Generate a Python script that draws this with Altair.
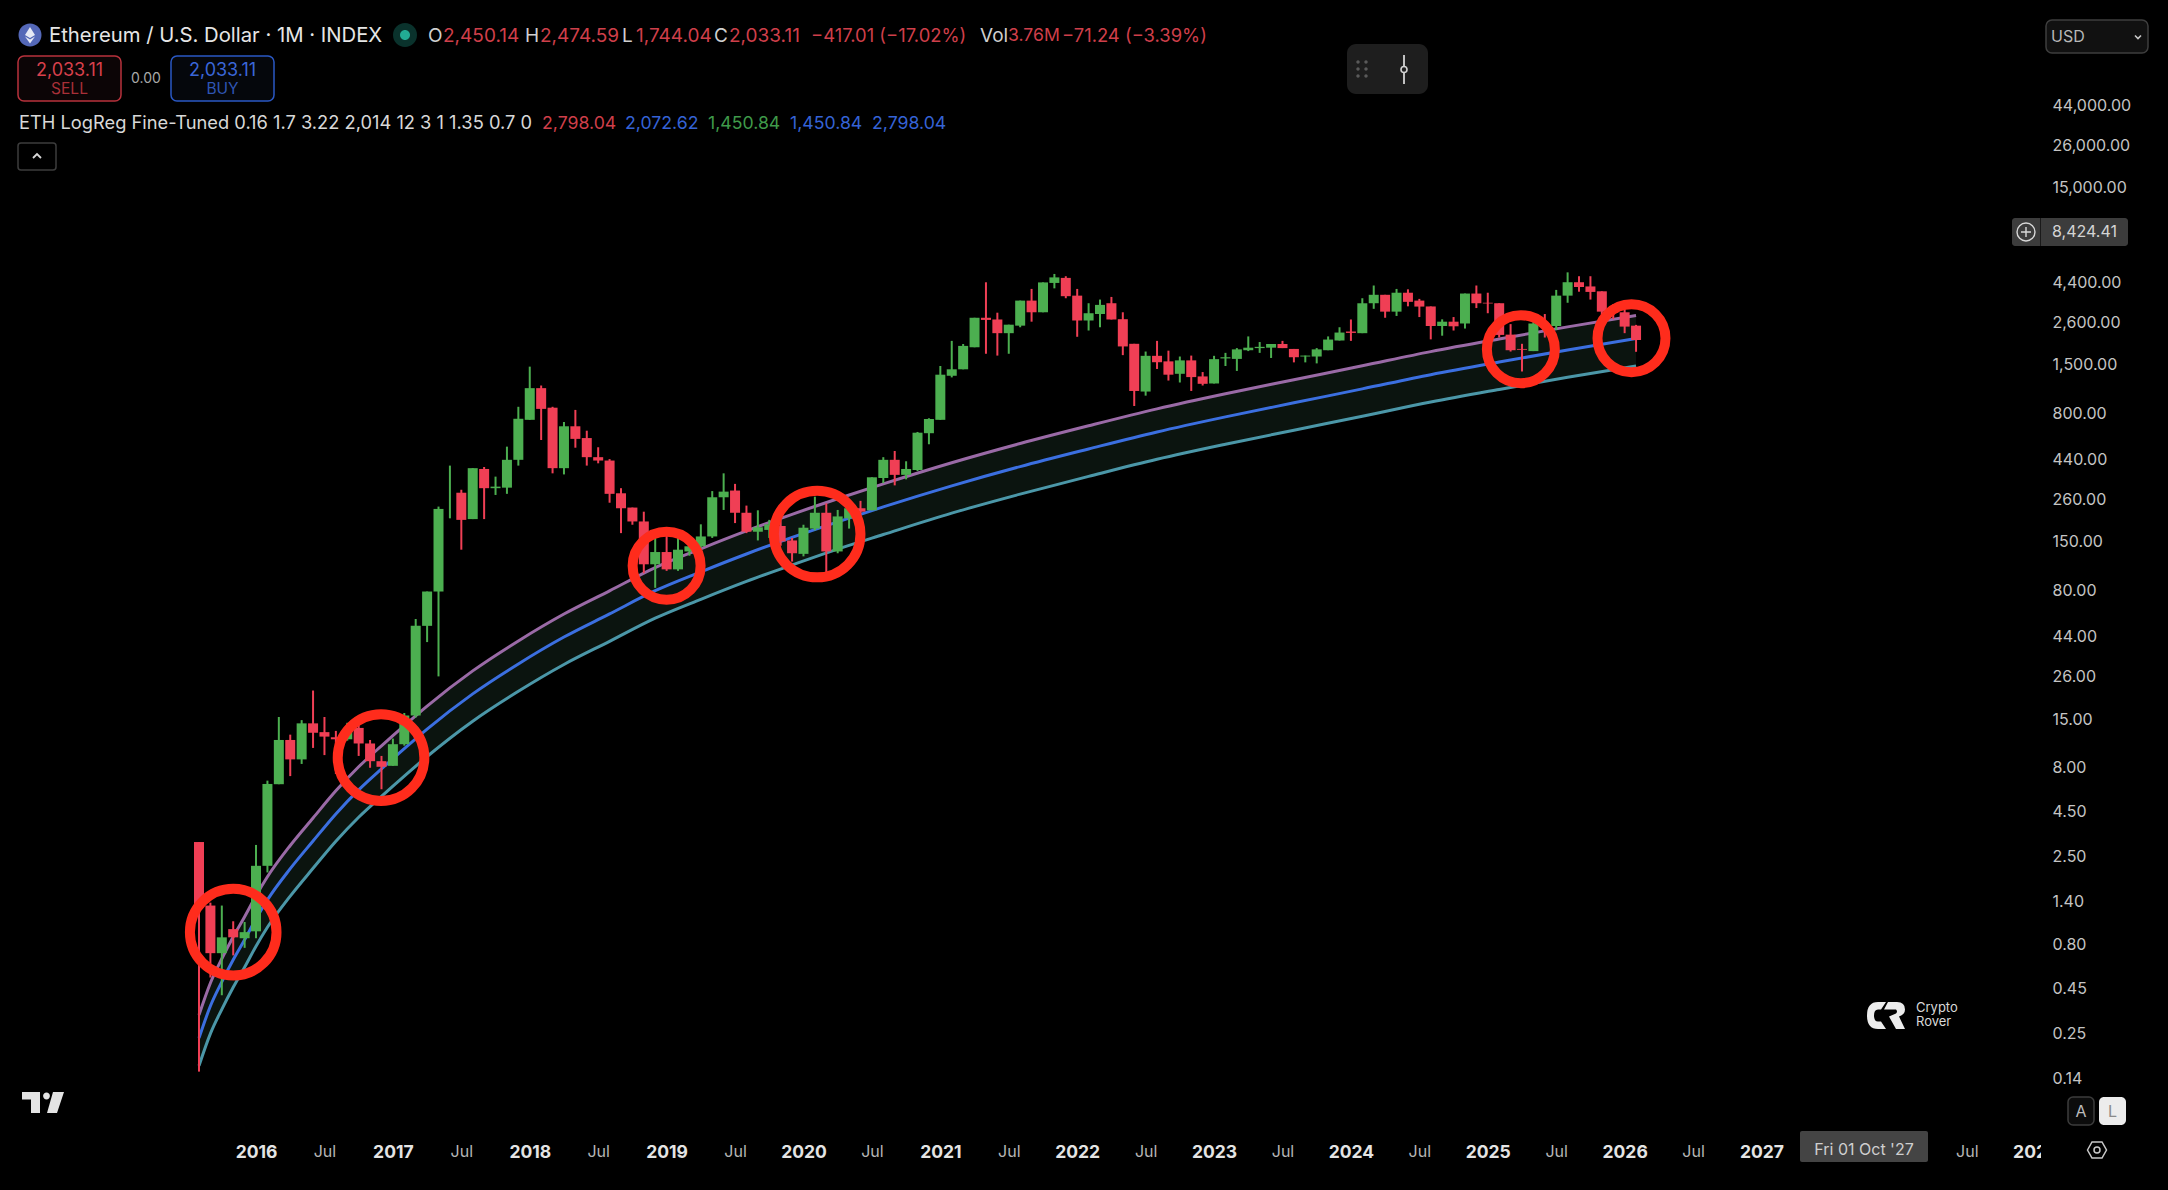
import altair as alt
import pandas as pd

# ---- data (USD) ----
opens = [2.97,1.30,0.70,0.957,0.85,0.93,2.18,6.3,11.2,8.7,13.9,12.4,11.6,11.3,13.1,10.7,8.5,8.0,10.6,15.4,
         49.4,77.2,275,279,198,380,296,298,428,720,1087,843,384,662,568,443,424,277,230,192,
         110,129,103,130,139,158,263,287,215,168,172,181,150,126,175,215,130,200,228,222,
         338,428,352,375,605,720,1277,1389,1850,2715,2655,2222,2450,3394,2916,4270,4560,3620,2620,2850,
         3280,2665,1935,1040,1655,1540,1310,1560,1266,1155,1600,1590,1780,1830,1840,1930,1810,1640,1640,1780,
         2020,2270,2222,3280,3660,2940,3760,3394,3145,2440,2580,2520,3720,3300,3280,2180,1810,1760,2520,2440,
         3620,4310,4080,3830,2940,2916,2450.14]
highs = [2.97,1.35,1.30,1.06,1.05,2.86,6.6,15.1,12.0,14.5,21.3,15.1,12.6,14.0,14.0,11.2,9.1,11.4,15.9,54,
         77.2,233,397,290,384,390,344,508,853,1438,1125,853,700,819,625,504,432,296,230,218,
         158,160,158,142,185,285,359,313,236,222,196,196,155,184,265,243,223,232,251,341,
         443,480,420,615,735,1450,2010,1930,2715,4307,2900,2481,3394,3951,4300,4800,4660,3950,3280,3440,
         3560,2916,1935,1750,2010,1770,1640,1660,1340,1655,1720,1830,2130,1980,1930,2010,1810,1660,1830,2130,
         2400,2655,3500,4130,3660,3950,3930,3470,3145,2660,2740,3720,4130,3760,3280,2500,1935,2580,2850,3900,
         4900,4660,4660,3830,3240,3150,2474.59]
lows = [0.15,0.51,0.405,0.68,0.75,0.85,2.0,6.3,7.0,8.2,10.1,9.2,7.2,11.1,9.1,7.8,5.9,8.0,10.4,15,
        40,25.6,200,133,198,198,271,275,397,720,554,359,354,501,397,409,245,165,184,98,
        81,101,101,123,136,155,223,188,165,150,155,140,114,122,171,89,127,175,212,222,
        316,307,332,370,524,720,1250,1389,1850,1700,1660,1700,2400,2580,2916,3980,3500,2120,2300,2400,
        2655,1670,862,986,1395,1200,1170,1048,1125,1155,1450,1360,1760,1720,1610,1830,1520,1520,1500,1780,
        2020,2010,2222,3050,2715,2780,3150,2740,2050,2150,2300,2360,3080,2880,2100,1750,1350,1760,2100,2320,
        3300,3810,3440,2800,2670,2222,1744.04]
closes = [1.30,0.70,0.86,0.86,0.92,2.18,6.32,11.2,8.7,13.9,12.3,11.7,11.3,12.8,10.7,8.5,7.9,10.6,15.4,49.4,
          77.2,226,275,196,384,296,302,428,730,1087,830,384,662,562,443,424,275,228,192,110,
          129,103,133,139,158,263,283,215,168,178,185,148,127,177,215,130,205,228,218,341,
          428,352,380,609,728,1295,1389,1883,2715,2640,2222,2481,3394,2916,4300,4590,3594,2620,2880,3210,
          2655,1870,1048,1655,1523,1295,1560,1255,1150,1585,1625,1800,1840,1860,1930,1830,1625,1660,1800,2045,
          2240,2230,3278,3660,2940,3760,3340,3140,2440,2580,2430,3720,3280,3270,2172,1780,1790,2520,2460,3620,
          4310,4050,3800,2940,2900,2420,2033.11]

band_idx = [0,1,2,3,4,5,6,8,10,12,14,16,18,20,24,28,32,36,40,44,48,52,56,60,66,72,78,84,90,96,102,108,114,120,126]
band_mid = [.232,.352,.482,.642,.833,1.094,1.40,2.10,3.01,4.28,5.85,7.69,10.0,12.9,20.4,30.1,42.7,57.7,78,99.7,
            125.8,156,191,232,305,392,493,615,748,898,1077,1295,1527,1787,2072.62]
band_up = [.313,.475,.651,.867,1.125,1.477,1.89,2.84,4.06,5.78,7.9,10.38,13.5,17.4,27.5,40.6,57.6,77.9,105.3,134.6,
           169.8,210.6,257.9,313,412,529,666,830,1010,1212,1454,1748,2061,2412,2798.04]
band_lo = [.162,.246,.337,.449,.583,.766,.98,1.47,2.11,3.0,4.1,5.38,7.0,9.03,14.3,21.1,29.9,40.4,54.6,69.8,
           88.1,109,134,162,214,274,345,431,524,629,754,907,1069,1251,1450.84]

ring_idx = [3.0,15.96,41.0,54.2,115.9,125.6]
ring_price = [0.92,8.9,108,163,1804,2081]
ring_size = [7500,7500,4620,7500,4620,4620]

y_ticks = [44000,26000,15000,4400,2600,1500,800,440,260,150,80,44,26,15,8,4.5,2.5,1.4,0.8,0.45,0.25,0.14]
x_ticks = [5,11,17,23,29,35,41,47,53,59,65,71,77,83,89,95,101,107,113,119,125,131,137,155,161]

# ---- styling ----
BG = "#000000"
GREEN = "#4caf50"
RED = "#f03f55"
FONT = "Inter"
W, H = 2152, 1174
x_scale = alt.Scale(domain=[-16.747, 171.94], nice=False, zero=False, padding=0)
y_scale = alt.Scale(type="log", domain=[0.0357, 152500], nice=False, zero=False)

df = pd.DataFrame({"i": range(len(opens)), "open": opens, "high": highs, "low": lows, "close": closes})
df["dir"] = ["up" if c >= o else "down" for o, c in zip(opens, closes)]
bands = pd.DataFrame({"i": band_idx, "mid": band_mid, "up": band_up, "lo": band_lo})
rings = pd.DataFrame({"i": ring_idx, "p": ring_price, "s": ring_size})
one = pd.DataFrame({"a": [0]})

YEAR = "(datum.value-5)%12==0"
x_axis = alt.Axis(values=x_ticks, orient="bottom", offset=-42, domain=False, ticks=False, grid=False,
                  labelExpr="(datum.value-5)%12==0 ? ''+(2016+(datum.value-5)/12) : 'Jul'",
                  labelFontWeight={"condition": {"test": YEAR, "value": "bold"}, "value": "normal"},
                  labelColor={"condition": {"test": YEAR, "value": "#e4e4e4"}, "value": "#b4b4b4"},
                  labelFontSize={"condition": {"test": YEAR, "value": 17.5}, "value": 16},
                  labelFont=FONT, labelPadding=3, labelOverlap=False, labelFlush=False,
                  labelBound=False, title=None)
y_axis = alt.Axis(values=y_ticks, orient="right", offset=-119, domain=False, ticks=False, grid=False, format=",.2f",
                  labelFont=FONT, labelFontSize=16, labelColor="#c4c4c4", labelPadding=11, labelOffset=1.5,
                  labelAlign="left", labelOverlap=False, labelFlush=False, labelBound=False, title=None)
X = alt.X("i:Q", scale=x_scale, axis=x_axis)
dir_color = alt.Color("dir:N", scale=alt.Scale(domain=["up", "down"], range=[GREEN, RED]), legend=None)


def Y(field):
    return alt.Y(field + ":Q", scale=y_scale, axis=y_axis)


band = alt.Chart(bands).mark_area(color="#0b140f", interpolate="monotone").encode(x=X, y=Y("up"), y2="lo:Q")


def band_line(field, color):
    return alt.Chart(bands).mark_line(color=color, strokeWidth=3, interpolate="monotone").encode(x=X, y=Y(field))


wicks = alt.Chart(df).mark_rule(strokeWidth=2).encode(x=X, y=Y("low"), y2="high:Q", color=dir_color)
bodies = alt.Chart(df).mark_bar(size=10).encode(x=X, y=Y("open"), y2="close:Q", color=dir_color)
ring_marks = alt.Chart(rings).mark_point(filled=False, strokeWidth=10, color="#ff2c1c", opacity=1).encode(
    x=X, y=Y("p"), size=alt.Size("s:Q", scale=None, legend=None))


# ---- interface furniture, placed in page pixels ----
def txt(t, x, y, color="#d8d8d8", size=17.7, weight="normal", align="left"):
    return alt.Chart(one).mark_text(text=t, font=FONT, fontSize=size, fontWeight=weight, color=color,
                                    align=align, baseline="middle").encode(
        x=alt.value(x - 8), y=alt.value(y - 8))


def box(x0, y0, x1, y1, fill="#000000", stroke=None, r=0, sw=1.5):
    opts = dict(fill=fill, cornerRadius=r)
    if stroke:
        opts.update(stroke=stroke, strokeWidth=sw)
    return alt.Chart(one).mark_rect(**opts).encode(
        x=alt.value(x0 - 8), x2=alt.value(x1 - 8), y=alt.value(y0 - 8), y2=alt.value(y1 - 8))


def sym(path, x, y, fill=None, stroke=None, sw=1.5):
    opts = dict(shape=path, size=4, opacity=1, filled=bool(fill))
    if fill:
        opts.update(fill=fill)
    if stroke:
        opts.update(stroke=stroke, strokeWidth=sw)
    return alt.Chart(one).mark_point(**opts).encode(x=alt.value(x - 8), y=alt.value(y - 8))


def dot(x, y, r, fill=None, stroke=None, sw=1.5):
    k = 0.5523 * r
    p = (f"M{-r},0C{-r},{-k} {-k},{-r} 0,{-r}C{k},{-r} {r},{-k} {r},0"
         f"C{r},{k} {k},{r} 0,{r}C{-k},{r} {-r},{k} {-r},0Z")
    return sym(p, x, y, fill, stroke, sw)


HR, HB, HG, LB = "#cf3f4a", "#3563d6", "#3f9a4a", "#cfcfcf"
OH = 19
ui = [
    dot(30, 35, 11.5, fill="#5468b8"),
    sym("M0,-8L5,0L0,3L-5,0ZM0,4.5L5,1.5L0,8.5L-5,1.5Z", 30, 35, fill="#e6e9f5"),
    txt("Ethereum / U.S. Dollar · 1M · INDEX", 49, 36, "#e6e6e6", 20.3),
    dot(405, 35, 12, fill="#0a322c"),
    dot(405, 35, 5, fill="#22ab94"),
    txt("O", 428, 36, LB, OH), txt("2,450.14", 443, 36, HR, OH),
    txt("H", 525, 36, LB, OH), txt("2,474.59", 540, 36, HR, OH),
    txt("L", 622, 36, LB, OH), txt("1,744.04", 636, 36, HR, OH),
    txt("C", 714, 36, LB, OH), txt("2,033.11", 729, 36, HR, OH),
    txt("−417.01 (−17.02%)", 811, 36, HR, 18.4),
    txt("Vol", 980, 36, LB, OH), txt("3.76M", 1008, 36, HR, 17.6), txt("−71.24 (−3.39%)", 1062, 36, HR, 18.4),
    box(18, 56, 121, 101, "#0c0506", "#b8323c", 6),
    txt("2,033.11", 69.5, 71, "#d8404c", 18, align="center"),
    txt("SELL", 69.5, 89, "#a83038", 15.5, align="center"),
    txt("0.00", 146, 79, "#a8a8a8", 14, align="center"),
    box(171, 56, 274, 101, "#05070c", "#2a58c4", 6),
    txt("2,033.11", 222.5, 71, "#3a66d8", 18, align="center"),
    txt("BUY", 222.5, 89, "#2f55b4", 15.5, align="center"),
    txt("ETH LogReg Fine-Tuned 0.16 1.7 3.22 2,014 12 3 1 1.35 0.7 0", 19, 124, "#d8d8d8", 18.3),
    txt("2,798.04", 542, 124, HR), txt("2,072.62", 625, 124, HB), txt("1,450.84", 708, 124, HG),
    txt("1,450.84", 790, 124, HB), txt("2,798.04", 872, 124, HB),
    box(18, 143, 56, 170, "#000000", "#3c3c3c", 3),
    sym("M-4,2L0,-2L4,2", 37, 156, None, "#d8d8d8", 1.8),
    # drawing toolbar
    box(1347, 44, 1428, 94, "#1e1e1e", None, 9),
    dot(1358, 62, 1.7, fill="#5a5a5a"), dot(1366, 62, 1.7, fill="#5a5a5a"),
    dot(1358, 69, 1.7, fill="#5a5a5a"), dot(1366, 69, 1.7, fill="#5a5a5a"),
    dot(1358, 76, 1.7, fill="#5a5a5a"), dot(1366, 76, 1.7, fill="#5a5a5a"),
    sym("M0,-14.5L0,14.5", 1404, 69.5, None, "#c0c0c0", 2),
    dot(1404, 69.5, 3, fill="#1e1e1e", stroke="#d0d0d0", sw=1.6),
    # price side
    box(2046, 20, 2148, 53, "#111111", "#3e3e3e", 6),
    txt("USD", 2051, 37, "#b8b8b8", 16),
    sym("M-3,-1.5L0,1.5L3,-1.5", 2138, 37, None, "#c8c8c8", 1.6),
    box(2012, 218, 2128, 246, "#3c3c3c", None, 3),
    box(2040, 218, 2041, 246, "#1a1a1a"),
    dot(2026, 232, 9, fill="#3c3c3c", stroke="#d8d8d8", sw=1.4),
    sym("M-5,0L5,0M0,-5L0,5", 2026, 232, None, "#d8d8d8", 1.4),
    txt("8,424.41", 2052, 232, "#d4d4d4", 16),
    # time side
    box(2041, 1134, 2070, 1166, "#000000"),
    box(1800, 1131, 1928, 1162, "#444444", None, 2),
    txt("Fri 01 Oct '27", 1864, 1150, "#cfcfcf", 16, align="center"),
    box(2068, 1097, 2094, 1125, "#0c0c0c", "#3c3c3c", 5),
    txt("A", 2081, 1112, "#bcbcbc", 16, align="center"),
    box(2099, 1097, 2126, 1125, "#ececec", None, 5),
    txt("L", 2112.5, 1112, "#8a8a8a", 16, align="center"),
    sym("M-9.5,0L-5,-8L5,-8L9.5,0L5,8L-5,8Z", 2097, 1150, None, "#c8c8c8", 1.5),
    dot(2097, 1150, 3, stroke="#c8c8c8", sw=1.5),
    # TradingView mark
    sym("M-21,-10.5L-3,-10.5L-3,10.5L-12,10.5L-12,-3L-21,-3Z", 43, 1102.5, fill="#e4e4e4"),
    dot(46.5, 1096, 3.4, fill="#e4e4e4"),
    sym("M21,-10.5L10,-10.5L4,10.5L14,10.5Z", 43, 1102.5, fill="#e4e4e4"),
    # Crypto Rover mark
    sym("M-8,-13.5L0,-13.5L-5,-6L-8,-6Q-12,-6 -12,0Q-12,6 -8,6L-5,6L0,13.5L-8,13.5Q-19,13.5 -19,0Q-19,-13.5 -8,-13.5Z",
        1886, 1015.5, fill="#ececec"),
    sym("M2,-13.5L11,-13.5Q19,-13.5 19,-6Q19,-1 13,1L19,13.5L10,13.5L3,1L10,-2Q12,-4 10,-6L-2,-6Z",
        1886, 1015.5, fill="#ececec"),
    txt("Crypto", 1916, 1008, "#d8d8d8", 13),
    txt("Rover", 1916, 1022, "#d8d8d8", 13),
]

chart = alt.layer(
    band,
    band_line("up", "#9a6aa6"), band_line("mid", "#3b6fe0"), band_line("lo", "#4b97a8"),
    wicks, bodies, ring_marks, *ui
).properties(
    width=W, height=H, background=BG, padding=0, autosize=alt.AutoSizeParams(type="none")
).configure_view(stroke=None)

chart.save("out.html", embed_options={"renderer": "svg", "actions": False,
                                      "defaultStyle": "body{background:#000;overflow:hidden}"})
